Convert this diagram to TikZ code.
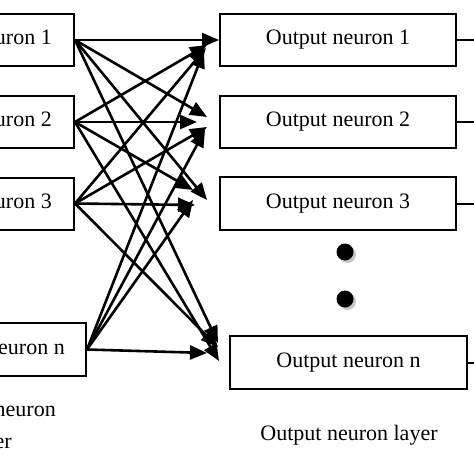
\documentclass[tikz,border=0pt]{standalone}
\usepackage{fontspec}
\setmainfont{Liberation Serif}
\usetikzlibrary{arrows.meta}
\begin{document}
\begin{tikzpicture}[x=1pt,y=-1pt,
  box/.style={draw,line width=2pt,inner sep=0pt,font=\fontsize{22}{26}\selectfont},
  conn/.style={line width=2.6pt,-{Triangle[length=17pt,width=14pt]}},
  exitline/.style={line width=2pt},
  lbl/.style={font=\fontsize{22}{26}\selectfont,inner sep=0pt}]
\useasboundingbox (0,0) rectangle (474,474);
\clip (0,0) rectangle (474,474);
% input boxes
\node[box,minimum width=174pt,minimum height=52pt] (in1) at (-13,40) {Input neuron 1};
\node[box,minimum width=174pt,minimum height=52pt] (in2) at (-13,122) {Input neuron 2};
\node[box,minimum width=174pt,minimum height=52pt] (in3) at (-13,203.5) {Input neuron 3};
\node[box,minimum width=172pt,minimum height=53pt] (inN) at (0,349.5) {Input neuron n};
% output boxes
\node[box,minimum width=236pt,minimum height=52pt] (out1) at (338,40) {Output neuron 1};
\node[box,minimum width=236pt,minimum height=52pt] (out2) at (338,122) {Output neuron 2};
\node[box,minimum width=236pt,minimum height=53pt] (out3) at (338,203.5) {Output neuron 3};
\node[box,minimum width=237pt,minimum height=53pt] (outN) at (348.5,362.5) {Output neuron n};
% exit lines
\coordinate (e1) at (474,40);
\coordinate (e2) at (474,122);
\coordinate (e3) at (474,203.5);
\coordinate (eN) at (474,362.5);
\draw[exitline] (out1.east) -- (e1);
\draw[exitline] (out2.east) -- (e2);
\draw[exitline] (out3.east) -- (e3);
\draw[exitline] (outN.east) -- (eN);
% arrow end points
\coordinate (t11) at (219,40);
\coordinate (t21) at (207,45);
\coordinate (t31) at (206,48);
\coordinate (tN1) at (204,51);
\coordinate (t12) at (207,117);
\coordinate (t22) at (197,122);
\coordinate (t32) at (207,127);
\coordinate (tN2) at (205,130);
\coordinate (t13) at (207,200);
\coordinate (t23) at (193,190);
\coordinate (t33) at (195,205);
\coordinate (tN3) at (193,200);
\coordinate (t1N) at (218,343);
\coordinate (t2N) at (219,361);
\coordinate (t3N) at (218,347);
\coordinate (tNN) at (207,353);
% connectors
\foreach \s/\n in {in1/1,in2/2,in3/3,inN/N}{
  \foreach \d in {1,2,3,N}{
    \draw[conn] (\s.east) -- (t\n\d);
  }
}
% dots
\fill[gray!45] (347.5,254.5) circle (8.5);
\fill (345,252) circle (8.5);
\fill[gray!45] (347.5,301.5) circle (8.5);
\fill (345,299) circle (8.5);
% labels
\node[lbl,anchor=east] (inlab1) at (56,412) {Input neuron};
\node[lbl,anchor=east] (inlab2) at (12,443) {layer};
\node[lbl] (outlab) at (349,435) {Output neuron layer};
\end{tikzpicture}
\end{document}
